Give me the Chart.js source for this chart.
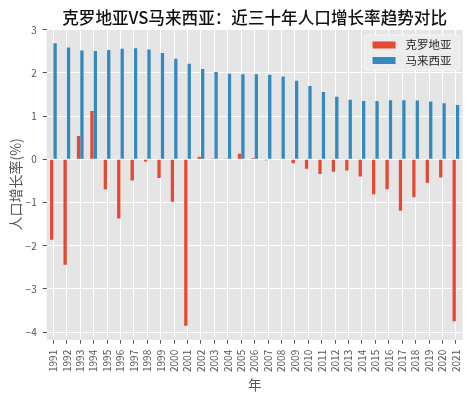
<!DOCTYPE html>
<html>
<head>
<meta charset="utf-8">
<script src="https://cdn.jsdelivr.net/npm/chart.js@4/dist/chart.umd.min.js"></script>
<style>
  html, body { margin: 0; padding: 0; background: #fff; }
  canvas { display: block; }
</style>
</head>
<body>
<canvas id="growthChart" width="474" height="399"></canvas>
<script>
// data
const years = ['1991', '1992', '1993', '1994', '1995', '1996', '1997', '1998', '1999', '2000',
  '2001', '2002', '2003', '2004', '2005', '2006', '2007', '2008', '2009', '2010',
  '2011', '2012', '2013', '2014', '2015', '2016', '2017', '2018', '2019', '2020', '2021'];
const croatia = [-1.86, -2.44, 0.54, 1.12, -0.69, -1.37, -0.49, -0.05, -0.43, -0.98,
  -3.85, 0.06, 0.02, 0.02, 0.13, 0.03, -0.02, -0.01, -0.09, -0.22,
  -0.34, -0.29, -0.26, -0.40, -0.81, -0.69, -1.19, -0.88, -0.54, -0.42, -3.75];
const malaysia = [2.69, 2.59, 2.52, 2.51, 2.53, 2.56, 2.57, 2.54, 2.46, 2.33,
  2.21, 2.09, 2.02, 1.98, 1.97, 1.97, 1.96, 1.92, 1.82, 1.70,
  1.56, 1.45, 1.38, 1.35, 1.35, 1.37, 1.37, 1.36, 1.34, 1.30, 1.26];
const yTicks = [-4, -3, -2, -1, 0, 1, 2, 3];
const yMin = -4.177;
const yMax = 3.017;
const chartTitle = '克罗地亚VS马来西亚：近三十年人口增长率趋势对比';

const FONT = "'Noto Sans CJK SC', 'Noto Sans', sans-serif";
Chart.defaults.font.family = FONT;

// grey panel behind the plot, like matplotlib's ggplot style
const panelBg = {
  id: 'panelBg',
  beforeDraw(chart) {
    const { ctx, chartArea: a } = chart;
    ctx.save();
    ctx.fillStyle = '#fff';
    ctx.fillRect(0, 0, chart.width, chart.height);
    ctx.fillStyle = '#E5E5E5';
    ctx.fillRect(a.left, a.top, a.right - a.left, a.bottom - a.top);
    ctx.restore();
  }
};

// title centred over the plot area rather than the whole canvas
const plotTitle = {
  id: 'plotTitle',
  afterDraw(chart) {
    const { ctx, chartArea: a } = chart;
    ctx.save();
    ctx.font = '500 16.6px ' + FONT;
    ctx.fillStyle = '#111';
    ctx.textAlign = 'center';
    ctx.textBaseline = 'middle';
    ctx.fillText(chartTitle, (a.left + a.right) / 2, 17.5);
    ctx.restore();
  }
};

// legend box in the upper right corner of the plot
const cornerLegend = {
  id: 'cornerLegend',
  afterDraw(chart) {
    const { ctx, chartArea: a } = chart;
    const w = 95, h = 35;
    const x = a.right - 3 - w, y = a.top + 6;
    ctx.save();
    ctx.fillStyle = 'rgba(236,236,236,0.95)';
    ctx.strokeStyle = 'rgba(250,250,250,0.9)';
    ctx.lineWidth = 1;
    ctx.beginPath();
    ctx.roundRect(x, y, w, h, 3);
    ctx.fill();
    ctx.stroke();
    ctx.font = '11.5px ' + FONT;
    ctx.textBaseline = 'middle';
    chart.data.datasets.forEach((ds, i) => {
      const cy = y + 10 + i * 15.5;
      ctx.fillStyle = ds.backgroundColor;
      ctx.fillRect(x + 8, cy - 3.5, 23, 7);
      ctx.fillStyle = '#222';
      ctx.fillText(ds.label, x + 41, cy);
    });
    ctx.restore();
  }
};

const tickFont = { size: 10 };

new Chart(document.getElementById('growthChart').getContext('2d'), {
  type: 'bar',
  data: {
    labels: years,
    datasets: [
      { label: '克罗地亚', data: croatia, backgroundColor: '#E24A33', borderWidth: 0 },
      { label: '马来西亚', data: malaysia, backgroundColor: '#348ABD', borderWidth: 0 }
    ]
  },
  options: {
    responsive: false,
    animation: false,
    datasets: { bar: { categoryPercentage: 0.5, barPercentage: 1.0 } },
    layout: { padding: { left: 0, right: 9, top: 29, bottom: 0 } },
    plugins: {
      legend: { display: false },
      tooltip: { enabled: false },
      title: { display: false }
    },
    scales: {
      x: {
        offset: true,
        border: { display: false },
        grid: { color: '#fff', lineWidth: 1, offset: false, tickLength: 4, tickColor: '#555' },
        ticks: { autoSkip: false, minRotation: 90, maxRotation: 90, color: '#555', font: tickFont, padding: 6 },
        title: { display: true, text: '年', color: '#555', font: { size: 13.5 }, padding: { top: 0, bottom: 6 } },
        afterFit(scale) { scale.height = 59.2; }
      },
      y: {
        min: yMin,
        max: yMax,
        border: { display: false },
        grid: { color: '#fff', lineWidth: 1, tickLength: 4, tickColor: '#555' },
        afterBuildTicks(scale) { scale.ticks = yTicks.map(v => ({ value: v })); },
        ticks: {
          color: '#555',
          font: tickFont,
          padding: 6,
          callback: v => (v < 0 ? '\u2212' + Math.abs(v) : String(v))
        },
        title: { display: true, text: '人口增长率(%)', color: '#555', font: { size: 14 }, padding: { top: 7.5, bottom: 0 } },
        afterFit(scale) { scale.width = 46.7; }
      }
    }
  },
  plugins: [panelBg, plotTitle, cornerLegend]
});
</script>
</body>
</html>
